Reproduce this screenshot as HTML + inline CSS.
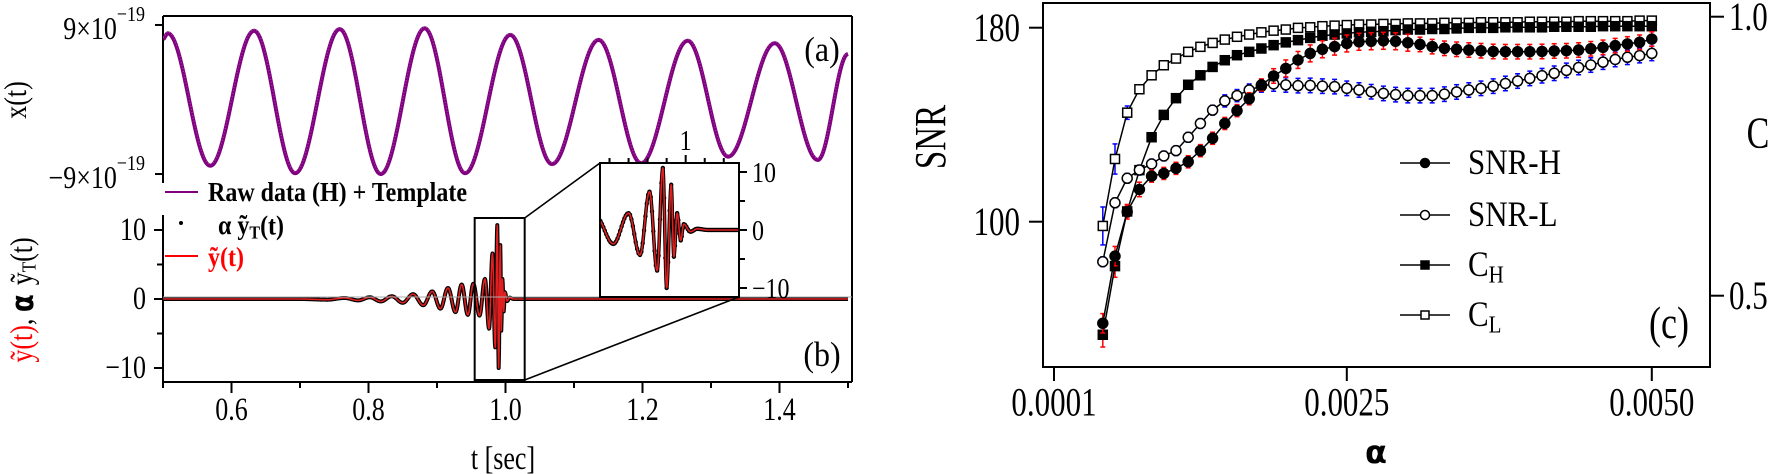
<!DOCTYPE html>
<html><head><meta charset="utf-8"><style>
html,body{margin:0;padding:0;background:#fff;}
svg{display:block;}
</style></head><body>
<svg id="fig" width="1773" height="474" viewBox="0 0 1773 474" xmlns="http://www.w3.org/2000/svg">
<defs>
<clipPath id="clipTop"><rect x="163" y="16" width="689" height="180"/></clipPath>
<clipPath id="clipBot"><rect x="163" y="215" width="689" height="167"/></clipPath>
<clipPath id="clipInset"><rect x="600" y="163" width="139" height="134"/></clipPath>
</defs>
</svg>
<script>
// ---------- DATA: panel (a) raw data extrema ----------
const topT = [0.500,0.507,0.569,0.633,0.693,0.758,0.818,0.882,0.941,1.007,1.068,1.136,1.198,1.266,1.325,1.393,1.456,1.500];
const topV = [7.3,8.0,-8.0,8.3,-8.9,8.5,-9.0,8.6,-8.9,7.8,-7.8,7.2,-7.7,7.1,-6.9,6.8,-7.3,5.5];
// ---------- DATA: panel (b) chirp extrema ----------
const chirpT = [0.500,0.700,0.740,0.765,0.785,0.802,0.818,0.834,0.850,0.865,0.880,0.893,0.905,0.916,0.927,0.936,0.945,0.953,0.962,0.970,0.976,0.981,0.985,0.988,0.990,0.9924,0.9938,0.9955,0.9974,0.999,1.0025,1.006,1.012,1.500];
const chirpV = [0,0,-0.1,0.15,-0.2,0.25,-0.35,0.4,-0.55,0.7,-0.9,1.1,-1.4,1.6,-1.9,2.1,-2.3,2.2,-2.4,2.9,-4.3,6.6,-7.0,10.7,-10.0,7.8,-4.6,2.9,-1.8,1.0,-0.3,0.2,0,0];
const botTicks = [0.6,0.8,1.0,1.2,1.4];
const botTickLabels = ["0.6","0.8","1.0","1.2","1.4"];
// ---------- DATA: panel (c) ----------
const alphas = [0.0005,0.0006,0.0007,0.0008,0.0009,0.0010,0.0011,0.0012,0.0013,0.0014,0.0015,0.0016,0.0017,0.0018,0.0019,0.0020,0.0021,0.0022,0.0023,0.0024,0.0025,0.0026,0.0027,0.0028,0.0029,0.0030,0.0031,0.0032,0.0033,0.0034,0.0035,0.0036,0.0037,0.0038,0.0039,0.0040,0.0041,0.0042,0.0043,0.0044,0.0045,0.0046,0.0047,0.0048,0.0049,0.0050];
const snrH = [58.1,85.8,104.1,113.3,118.8,119.9,122,124.7,129.3,134.4,140.5,145.8,150.7,156.4,160.1,163.2,166.7,169.4,171.1,172.2,173.5,174.2,174.4,174.6,174.4,173.8,173.1,172.2,171.5,171.1,170.8,170.5,170.2,170.1,170.1,170.1,170.2,170.4,170.5,170.8,171.3,171.9,172.6,173.3,174,175.3];
const snrL = [83.5,107.8,117.9,121.3,123.8,127.1,129.3,134.8,140.5,146,149.8,152,154.3,155.9,156.8,156.4,156.1,156.2,155.9,155.7,155,154.3,153.6,152.9,152.4,152,152,152,152.6,153.5,154.3,155,155.9,157,158,159.1,160.2,161.2,162.4,163.6,164.6,165.8,166.9,167.8,168.5,169.4];
const cH = [0.430,0.553,0.651,0.725,0.784,0.824,0.854,0.878,0.895,0.910,0.922,0.931,0.937,0.943,0.949,0.954,0.958,0.962,0.966,0.968,0.970,0.972,0.973,0.974,0.976,0.977,0.977,0.978,0.978,0.979,0.980,0.980,0.980,0.981,0.981,0.981,0.981,0.982,0.982,0.982,0.982,0.983,0.983,0.983,0.983,0.983];
const cL = [0.625,0.745,0.828,0.870,0.895,0.913,0.925,0.937,0.946,0.953,0.959,0.964,0.968,0.972,0.975,0.977,0.980,0.981,0.983,0.984,0.985,0.986,0.986,0.987,0.987,0.988,0.988,0.988,0.989,0.989,0.989,0.990,0.990,0.990,0.990,0.991,0.991,0.991,0.991,0.992,0.992,0.992,0.992,0.992,0.993,0.993];
const errSnrH = [4,4,3,3,2.5,2.5,2.5,2.5,2.5,2.5,2.5,2.5,2.5,2.5,3,3.5,3.5,3.5,3.5,3.5,3.5,3.5,3.5,3.5,3.5,3.5,3,3,3,3,3,3,3,3,3,3,3,3,3,3,3,3,3,3,3,3];
const errSnrL = [2,2,2,2,2,2,2,2,2,2,2.5,2.5,2.5,2.5,3,3,3,3,3,3,3,3,3,3,3,3,3,3,3,3,3,3,3,3,3,3,3,3,3,3,3,3,3,3,3,3];
const errCH = [0.022,0.02,0.01,0.006,0.004,0.003,0.003,0.003,0.003,0.003,0.003,0.003,0.003,0.003,0.003,0.003,0.003,0.003,0.003,0.003,0.003,0.003,0.003,0.003,0.003,0.003,0.003,0.003,0.003,0.003,0.003,0.003,0.003,0.003,0.003,0.003,0.003,0.003,0.003,0.003,0.003,0.003,0.003,0.003,0.003,0.003];
const errCL = [0.034,0.027,0.012,0.006,0.004,0.003,0.003,0.003,0.003,0.003,0.003,0.003,0.003,0.003,0.003,0.003,0.003,0.003,0.003,0.003,0.003,0.003,0.003,0.003,0.003,0.003,0.003,0.003,0.003,0.003,0.003,0.003,0.003,0.003,0.003,0.003,0.003,0.003,0.003,0.003,0.003,0.003,0.003,0.003,0.003,0.003];
const cAlphaTicks = [0.0001,0.0025,0.0050];
const cAlphaLabels = ["0.0001","0.0025","0.0050"];
const snrTicks = [100,180];
const cTicks = [0.5,1.0];
const cTickLabels = ["0.5","1.0"];

const NS = "http://www.w3.org/2000/svg";
const svg = document.getElementById('fig');
function mk(tag, attrs, parent, name){
  const e = document.createElementNS(NS, tag);
  for (const k in attrs) e.setAttribute(k, attrs[k]);
  
  
  (parent||svg).appendChild(e);
  return e;
}
function txt(x,y,s,name,opt){
  opt = opt||{};
  const g = mk('g',{transform:`translate(${x},${y}) rotate(${opt.rot||0}) scale(${opt.sx||1},${opt.sy||1})`},opt.parent,name+'-group');
  const t = mk('text',{x:0,y:0,'font-family':opt.ff||'"Liberation Serif", "DejaVu Serif", serif','font-size':opt.size||26,
    'text-anchor':opt.anchor||'middle','dominant-baseline':'central',fill:opt.fill||'#000','font-weight':opt.bold?'bold':'normal'},g,name);
  t.textContent = s;
  return t;
}
function line(x1,y1,x2,y2,name,opt){
  opt=opt||{};
  return mk('line',{x1,y1,x2,y2,stroke:opt.stroke||'#000','stroke-width':opt.w||2},opt.parent,name);
}
function interp(T,V,step){
  const pts=[];
  for(let i=0;i<T.length-1;i++){
    const n = Math.max(2, Math.ceil((T[i+1]-T[i])/step));
    for(let k=0;k<n;k++){
      const s=k/n; const e=(1-Math.cos(Math.PI*s))/2;
      pts.push([T[i]+(T[i+1]-T[i])*s, V[i]+(V[i+1]-V[i])*e]);
    }
  }
  pts.push([T[T.length-1],V[V.length-1]]);
  return pts;
}
function pathD(pts,fx,fy){return pts.map((p,i)=>(i?'L':'M')+fx(p[0]).toFixed(2)+','+fy(p[1]).toFixed(2)).join('');}

// ===================== LEFT PANELS =====================
const X = t => 163 + (t-0.5)*685;
const YA = v => 99.5 - v*8.28;
const YB = v => 299 - v*6.9;

line(163,16,852,16,'top-frame');
line(852,16,852,382,'right-frame');
line(163,16,163,183,'y-axis-a');
line(163,215,163,382,'y-axis-b');
line(163,382,852,382,'x-axis-b');

const gA = mk('g',{'clip-path':'url(#clipTop)'},svg,'panel-a-plot');
const ptsA = interp(topT,topV,0.002);
mk('path',{d:pathD(ptsA,X,YA),fill:'none',stroke:'#800080','stroke-width':4,'stroke-linejoin':'round'},gA,'raw-data-line');
mk('path',{d:pathD(ptsA,X,YA),fill:'none',stroke:'#a040a0','stroke-width':1.2,'stroke-dasharray':'1 2','transform':'translate(0,-1.5)'},gA,'raw-data-noise');
[[9,'9×10','−19'],[-9,'−9×10','−19']].forEach(([v,b,sup])=>{
  line(155,YA(v),163,YA(v),'y-tick-a');
  const t = txt(145,YA(v)+4,b,'y-tick-label-a',{size:26,sy:1.2,anchor:'end'});
  const sp = mk('tspan',{dy:-12,'font-size':18},t,'y-tick-exponent');
  sp.textContent = sup;
});
txt(16,100,'x(t)','y-axis-title-a',{size:26,rot:-90,sy:1.2});
txt(822,50,'(a)','panel-label-a',{size:32,sy:1.1});

// legend (a/b)
line(165,192,198,192,'legend-raw-line',{stroke:'#800080',w:2});
txt(208,192,'Raw data (H) + Template','legend-raw-text',{size:24,bold:true,anchor:'start',sy:1.15});
mk('circle',{cx:181,cy:223,r:2},svg,'legend-template-dot');
const lt = txt(218,225,'α ỹ','legend-template-text',{size:24,bold:true,anchor:'start',sy:1.15});
const ltSub = mk('tspan',{'font-size':16,dy:6},lt,'legend-template-sub'); ltSub.textContent='T';
const ltPar = mk('tspan',{dy:-6},lt,'legend-template-paren'); ltPar.textContent='(t)';
line(165,256,198,256,'legend-filtered-line',{stroke:'#ff0000',w:2});
txt(208,257,'ỹ(t)','legend-filtered-text',{size:24,bold:true,anchor:'start',fill:'#ff0000',sy:1.15});

// panel (b)
const gB = mk('g',{'clip-path':'url(#clipBot)'},svg,'panel-b-plot');
const ptsB = interp(chirpT,chirpV,0.0006);
line(163,297,852,297,'noise-floor',{stroke:'#aaa',w:1});
mk('path',{d:pathD(ptsB,X,YB),fill:'none',stroke:'#000','stroke-width':4,'stroke-linejoin':'round'},gB,'template-line');
mk('path',{d:pathD(ptsB,X,YB),fill:'none',stroke:'#e02020','stroke-width':1.6,'stroke-linejoin':'round'},gB,'filtered-line');
[[10,'10'],[0,'0'],[-10,'−10']].forEach(([v,l])=>{
  line(154,YB(v),163,YB(v),'y-tick-b');
  txt(146,YB(v),l,'y-tick-label-b',{size:26,sy:1.25,anchor:'end'});
});
[5,-5].forEach(v=>line(157,YB(v),163,YB(v),'y-minor-tick-b'));
botTicks.forEach((t,i)=>{
  line(X(t),382,X(t),393,'x-tick-b');
  txt(X(t),410,botTickLabels[i],'x-tick-label-b',{size:26,sy:1.25});
});
[0.5,0.7,0.9,1.1,1.3,1.5].forEach(t=>line(X(t),382,X(t),388,'x-minor-tick-b'));
txt(503,459,'t [sec]','x-axis-title-b',{size:26,sy:1.25});
txt(822,355,'(b)','panel-label-b',{size:32,sy:1.1});
const yl = txt(22,300,'','y-axis-title-b',{size:26,rot:-90,sy:1.2});
const s1 = mk('tspan',{fill:'#ff0000'},yl,'y-title-red-part'); s1.textContent='ỹ(t)';
const s2 = mk('tspan',{},yl,'y-title-comma'); s2.textContent=', ';
const s3 = mk('tspan',{'font-weight':'bold','font-family':'"DejaVu Sans", sans-serif'},yl,'y-title-alpha'); s3.textContent='α ';
const s4 = mk('tspan',{},yl,'y-title-template'); s4.textContent='ỹ';
const s5 = mk('tspan',{'font-size':17,dy:6},yl,'y-title-sub'); s5.textContent='T';
const s6 = mk('tspan',{dy:-6},yl,'y-title-paren'); s6.textContent='(t)';

const t0 = 0.955, t1 = 1.028;
mk('rect',{x:X(t0),y:218,width:X(t1)-X(t0),height:162,fill:'none',stroke:'#000','stroke-width':2},svg,'zoom-box');
line(X(t1),218,600,163,'zoom-connector-top',{w:1.6});
line(X(t1),380,739,297,'zoom-connector-bottom',{w:1.6});

const XI = t => 600 + (t-t0)*(139/(t1-t0));
const YI = v => 230 - v*5.8;
mk('rect',{x:600,y:163,width:139,height:134,fill:'#fff',stroke:'none'},svg,'inset-bg');
const gI = mk('g',{'clip-path':'url(#clipInset)'},svg,'inset-plot');
const ptsI = interp(chirpT,chirpV,0.0002);
mk('path',{d:pathD(ptsI,XI,YI),fill:'none',stroke:'#000','stroke-width':3.5,'stroke-linejoin':'round'},gI,'inset-template-line');
const dotPts = interp(chirpT,chirpV,0.0008).filter(p=>p[0]>=t0-0.001&&p[0]<=t1+0.001);
dotPts.forEach(p=>{ mk('circle',{cx:XI(p[0]),cy:YI(p[1]),r:2.2,fill:'#000'},gI,'inset-template-dot'); });
mk('path',{d:pathD(ptsI,XI,YI),fill:'none',stroke:'#e02020','stroke-width':1.6,'stroke-linejoin':'round'},gI,'inset-filtered-line');
mk('rect',{x:600,y:163,width:139,height:134,fill:'none',stroke:'#000','stroke-width':2},svg,'inset-frame');
[[10,'10'],[0,'0'],[-10,'−10']].forEach(([v,l])=>{
  line(739,YI(v),747,YI(v),'inset-y-tick');
  txt(752,YI(v),l,'inset-y-tick-label',{size:24,sy:1.2,anchor:'start'});
});
[5,-5].forEach(v=>line(739,YI(v),745,YI(v),'inset-y-minor-tick'));
[0.96,0.97,0.98,0.99,1.01,1.02].forEach(t=>line(XI(t),163,XI(t),158,'inset-x-minor-tick'));
line(XI(1.0),163,XI(1.0),155,'inset-x-tick');
txt(XI(1.0),140,'1','inset-x-tick-label',{size:24,sy:1.2});

// ===================== RIGHT PANEL (c) =====================
const XA = a => 1054 + (a-0.0001)*122000;
const YS = v => 27.7 + (180-v)*2.425;
const YC = c => 16.7 + (1-c)*558;

mk('rect',{x:1043,y:3,width:667,height:364,fill:'none',stroke:'#000','stroke-width':2},svg,'plot-frame-c');
cAlphaTicks.forEach((a,i)=>{
  line(XA(a),367,XA(a),381,'x-tick-c');
  txt(XA(a),402,cAlphaLabels[i],'x-tick-label-c',{size:31,sy:1.3});
});
snrTicks.forEach(v=>{
  line(1029,YS(v),1043,YS(v),'y-tick-snr');
  txt(1020,YS(v),String(v),'y-tick-label-snr',{size:31,sy:1.3,anchor:'end'});
});
cTicks.forEach((c,i)=>{
  line(1710,YC(c),1724,YC(c),'y-tick-c');
  txt(1729,YC(c),cTickLabels[i],'y-tick-label-c',{size:31,sy:1.3,anchor:'start'});
});
txt(931,137,'SNR','y-axis-title-snr',{size:33,rot:-90,sy:1.35});
txt(1758,133,'C','y-axis-title-c',{size:34,sy:1.3});
txt(1376,452,'α','x-axis-title-c',{size:32,bold:true,ff:'"DejaVu Sans", sans-serif'});
txt(1669,323,'(c)','panel-label-c',{size:36,sy:1.25});

function series(vals, errs, fy, ecol, marker, filled, name){
  const g = mk('g',{},svg,name+'-series');
  vals.forEach((v,i)=>{
    const x = XA(alphas[i]);
    const yt = fy(v+errs[i]), yb = fy(v-errs[i]);
    line(x,yt,x,yb,name+'-errorbar',{stroke:ecol,w:1.5,parent:g});
    line(x-2.5,yt,x+2.5,yt,name+'-errorcap',{stroke:ecol,w:1.5,parent:g});
    line(x-2.5,yb,x+2.5,yb,name+'-errorcap',{stroke:ecol,w:1.5,parent:g});
  });
  mk('polyline',{points:vals.map((v,i)=>XA(alphas[i]).toFixed(1)+','+fy(v).toFixed(1)).join(' '),fill:'none',stroke:'#000','stroke-width':1.5},g,name+'-line');
  vals.forEach((v,i)=>{
    const x = XA(alphas[i]), y = fy(v);
    if(marker==='circle') mk('circle',{cx:x,cy:y,r:5,fill:filled?'#000':'#fff',stroke:'#000','stroke-width':1.5},g,name+'-marker');
    else mk('rect',{x:x-4.5,y:y-4.5,width:9,height:9,fill:filled?'#000':'#fff',stroke:'#000','stroke-width':1.5},g,name+'-marker');
  });
}
series(cL, errCL, YC, '#0000ff', 'square', false, 'c-l');
series(cH, errCH, YC, '#ff0000', 'square', true, 'c-h');
series(snrL, errSnrL, YS, '#0000ff', 'circle', false, 'snr-l');
series(snrH, errSnrH, YS, '#ff0000', 'circle', true, 'snr-h');

const legItems = [['SNR-H','circle',true,163],['SNR-L','circle',false,215],['C','square',true,265,'H'],['C','square',false,315,'L']];
legItems.forEach(it=>{
  line(1400,it[3],1450,it[3],'legend-line-c',{w:1.5});
  if(it[1]==='circle') mk('circle',{cx:1425,cy:it[3],r:4.5,fill:it[2]?'#000':'#fff',stroke:'#000','stroke-width':1.5},svg,'legend-marker-c');
  else mk('rect',{x:1421,y:it[3]-4,width:8,height:8,fill:it[2]?'#000':'#fff',stroke:'#000','stroke-width':1.5},svg,'legend-marker-c');
  const t = txt(1468,it[3],it[0],'legend-text-c',{size:31,anchor:'start',sy:1.15});
  if(it[4]){ const s = mk('tspan',{'font-size':21,dy:8},t,'legend-subscript-c'); s.textContent = it[4]; }
});
</script>
</body></html>
